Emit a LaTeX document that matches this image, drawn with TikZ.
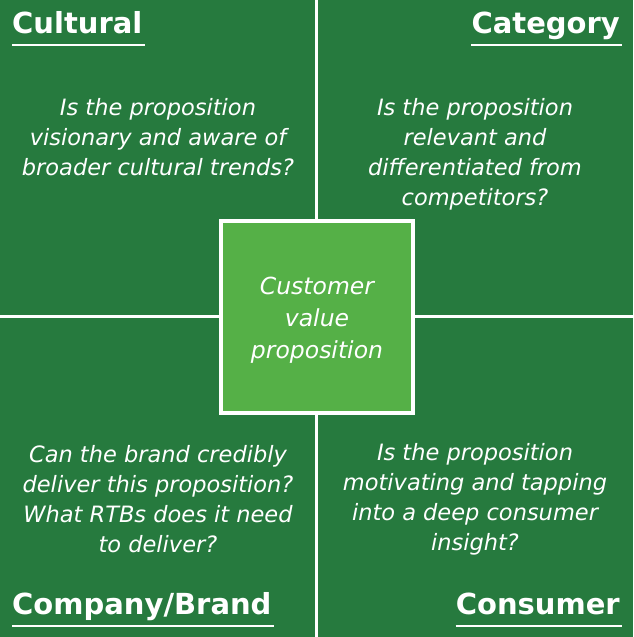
\documentclass[tikz,border=0pt]{standalone}
\usepackage{fontspec}
\setmainfont{DejaVu Sans}
\definecolor{darkleaf}{RGB}{38,122,62}
\definecolor{lightleaf}{RGB}{85,176,71}

\begin{document}
\begin{tikzpicture}[x=1pt, y=-1pt]
    % Define styles
    \tikzset{
        heading/.style={font=\fontsize{29}{32}\selectfont\bfseries, text=white, inner sep=0pt},
        question/.style={font=\fontsize{22.5}{30}\selectfont\itshape, text=white, align=center, inner sep=0pt},
        divider/.style={white, line width=3pt},
        headline/.style={white, line width=2.5pt},
        corebox/.style={draw=white, line width=4pt, fill=lightleaf, minimum size=192pt, inner sep=0pt},
        coretext/.style={text=white, align=center, inner sep=0pt, font=\fontsize{23.5}{32}\selectfont\itshape}
    }

    % Background and quadrant dividers
    \fill[darkleaf] (0,0) rectangle (633,637);
    \useasboundingbox (0,0) rectangle (633,637);
    \draw[divider] (316.5,0) -- (316.5,637);
    \draw[divider] (0,316) -- (633,316);

    % Centre box
    \node[corebox] (core) at (317,317) {};
    \node[coretext] (corelabel) at ([yshift=-3pt]core.center) {Customer\\value\\proposition};

    % Quadrant headings
    \node[heading, anchor=base west] (cultural) at (12,33) {Cultural};
    \node[heading, anchor=base east] (category) at (620,33) {Category};
    \node[heading, anchor=base west] (company) at (12,614) {Company/Brand};
    \node[heading, anchor=base east] (consumer) at (620,614) {Consumer};

    % Underlines
    \foreach \h in {cultural, category, company, consumer}
        \draw[headline] ([yshift=-12pt]\h.base west) -- ([yshift=-12pt,xshift=2pt]\h.base east);

    % Quadrant questions
    \node[question] (qcultural) at (158,137) {Is the proposition\\visionary and aware of\\broader cultural trends?};
    \node[question] (qcategory) at (475,154) {Is the proposition\\relevant and\\differentiated from\\competitors?};
    \node[question] (qcompany) at (158,499) {Can the brand credibly\\deliver this proposition?\\What RTBs does it need\\to deliver?};
    \node[question] (qconsumer) at (475,499) {Is the proposition\\motivating and tapping\\into a deep consumer\\insight?};

\end{tikzpicture}
\end{document}
